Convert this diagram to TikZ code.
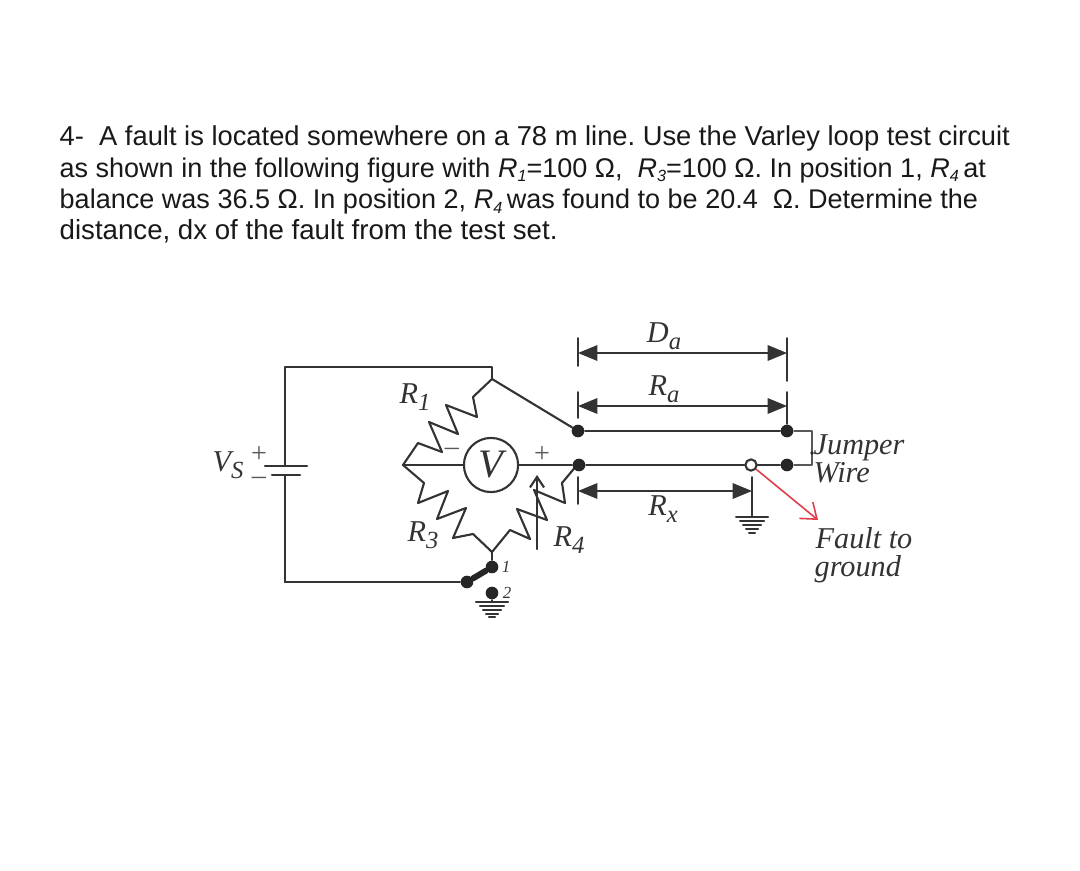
\documentclass[tikz,border=0pt]{standalone}
\usepackage{fontspec}
\setmainfont{Liberation Sans}
\newfontfamily\labfont{Liberation Serif}
\usetikzlibrary{arrows}
\usetikzlibrary{arrows.meta}

\definecolor{faultred}{RGB}{222,62,72}
\frenchspacing

\newcommand{\tsub}[2]{\textit{#1\raisebox{-0.35ex}{\fontsize{4.6}{5}\selectfont #2}}}
\newcommand{\lsub}[2]{\textit{#1\raisebox{-0.5ex}{\fontsize{7}{8}\selectfont #2}}}

\tikzset{
	wire/.style={line width=0.6pt,draw=black!80},
	thinwire/.style={line width=0.4pt,draw=black!65},
	dimline/.style={line width=0.5pt,draw=black!80,{Triangle[length=5.5pt,width=4.4pt]}-{Triangle[length=5.5pt,width=4.4pt]}},
	tick/.style={line width=0.5pt,draw=black!80},
	dot/.style={circle,fill=black!85,inner sep=0pt,minimum size=3.6pt},
	opendot/.style={circle,draw=black!80,fill=white,line width=0.6pt,inner sep=0pt,minimum size=3.2pt},
	textline/.style={anchor=base west,inner sep=0pt,text=black!90,font=\fontsize{#1}{9}\selectfont},
	lab/.style={inner sep=0pt,text=black!80,font=\labfont\itshape\fontsize{8.6}{9}\selectfont},
	sign/.style={inner sep=0pt,text=black!65,font=\labfont\fontsize{8}{8}\selectfont},
	small/.style={inner sep=0pt,text=black!80,font=\labfont\itshape\fontsize{4.8}{5}\selectfont},
}

\begin{document}
\begin{tikzpicture}
	[line cap=round,line join=round,x=0.01cm,y=-0.01cm]
	\useasboundingbox (0,0) rectangle (1080,870);
	\fill[white] (0,0) rectangle (1080,870);
	% question text
	\node[textline=7.77] (lineA) at (59,146) {4-\ \ A fault is located somewhere on a 78 m line. Use the Varley loop test circuit};
	\node[textline=7.68] (lineB) at (59,177) {as shown in the following figure with \tsub{R}{1}=100 Ω,\ \ \tsub{R}{3}=100 Ω. In position 1, \tsub{R}{4}\,at};
	\node[textline=7.69] (lineC) at (59,208) {balance was 36.5 Ω. In position 2, \tsub{R}{4}\,was found to be 20.4\ \ Ω. Determine the};
	\node[textline=7.86] (lineD) at (59,239) {distance, dx of the fault from the test set.};
	% bridge corners
	\coordinate (cornerTL) at (285,367);
	\coordinate (cornerTR) at (492,367);
	\coordinate (top) at (492,379);
	\coordinate (left) at (403,465);
	\coordinate (bottom) at (492,552);
	\coordinate (cornerBL) at (285,582);
	% battery
	\coordinate (plateA) at (285,466);
	\coordinate (plateB) at (285,475);
	\draw[wire] (265,466) -- (307,466);
	\draw[wire] (272,475) -- (300,475);
	\draw[wire] (plateA) -- (cornerTL) -- (cornerTR) -- (top);
	\draw[wire] (plateB) -- (cornerBL);
	% resistors
	\draw[wire] (top) -- (473,397) -- (477,417) -- (446,405) -- (458,434) -- (429,422) -- (442,452) -- (418,443) -- (left);
	\draw[wire] (left) -- (424,483) -- (418,503) -- (448,491) -- (437,519) -- (466,508) -- (453,538) -- (473,534) -- (bottom);
	\draw[wire] (bottom) -- (510,530) -- (530,539) -- (517,509) -- (547,520) -- (534,490) -- (565,503) -- (562,483) -- (577,465);
	\coordinate (adjA) at (537,549);
	\coordinate (adjB) at (537,475);
	\draw[wire,-{Straight Barb[length=3pt,width=4pt]}] (adjA) -- (adjB);
	% meter
	\node[circle,draw=black!80,line width=0.6pt,inner sep=0pt,minimum size=15.4pt] (meter) at (491,465) {};
	\node[lab,font=\labfont\itshape\fontsize{11.5}{12}\selectfont] (meterV) at (491,465) {V};
	% line dots
	\node[dot] (dotA) at (578,431) {};
	\node[dot] (dotB) at (579,465) {};
	\node[dot] (dotC) at (787,431) {};
	\node[dot] (dotD) at (787,465) {};
	\node[opendot] (fault) at (751,465) {};
	\draw[wire] (top) -- (dotA);
	\draw[wire] (dotA) -- (dotC);
	\draw[wire] (left) -- (meter);
	\draw[wire] (meter) -- (dotB);
	\draw[wire] (dotB) -- (fault);
	\draw[wire] (fault) -- (dotD);
	% jumper
	\coordinate (jumpA) at (812,431);
	\coordinate (jumpB) at (812,465);
	\draw[thinwire] (dotC) -- (jumpA) -- (jumpB) -- (dotD);
	\node[dot,minimum size=1.1pt] (jumpDot) at (812,453) {};
	% switch
	\node[dot] (swA) at (492,567) {};
	\node[dot] (swB) at (467,582) {};
	\node[dot] (swC) at (492,593) {};
	\draw[wire] (bottom) -- (swA);
	\draw[line width=1.7pt,black!85] (swA) -- (swB);
	\draw[wire] (swB) -- (cornerBL);
	\coordinate (gndA) at (492,602);
	\draw[wire] (swC) -- (gndA);
	\draw[wire] (476,602) -- (508,602);
	\draw[wire] (480,606) -- (504,606);
	\draw[wire] (483,610) -- (501,610);
	\draw[wire] (486,614) -- (498,614);
	\draw[wire] (489,617) -- (495,617);
	% ground at the rx end
	\coordinate (rxTop) at (752,477);
	\coordinate (rxEnd) at (752,491);
	\coordinate (gndB) at (752,517);
	\draw[tick] (rxTop) -- (gndB);
	\draw[wire] (736,517) -- (768,517);
	\draw[wire] (740,521) -- (764,521);
	\draw[wire] (743,525) -- (761,525);
	\draw[wire] (746,529) -- (758,529);
	\draw[wire] (749,533) -- (755,533);
	% dimensions
	\coordinate (daL) at (578,353);
	\coordinate (daR) at (787,353);
	\coordinate (raL) at (578,406);
	\coordinate (raR) at (787,406);
	\coordinate (rxL) at (578,491);
	\draw[tick] (578,338) -- (578,366);
	\draw[tick] (787,338) -- (787,381);
	\draw[tick] (578,392) -- (578,418);
	\draw[tick] (787,392) -- (dotC);
	\draw[tick] (578,477) -- (578,504);
	\draw[dimline] (daL) -- (daR);
	\draw[dimline] (raL) -- (raR);
	\draw[dimline] (rxL) -- (rxEnd);
	% fault arrow
	\coordinate (faultEnd) at (818,520);
	\draw[line width=0.45pt,faultred,-{Straight Barb[length=4pt,width=6pt]}] (fault) -- (faultEnd);
	% labels
	\node[lab] (labVs) at (228,465) {\lsub{V}{S}};
	\node[sign] (plusVs) at (259,455) {+};
	\node[sign] (minusVs) at (259,481) {–};
	\node[sign] (minusV) at (452,452) {–};
	\node[sign] (plusV) at (542,455) {+};
	\node[lab] (labRa) at (415,397) {\lsub{R}{1}};
	\node[lab] (labRb) at (423,535) {\lsub{R}{3}};
	\node[lab] (labRc) at (569,540) {\lsub{R}{4}};
	\node[lab] (labDa) at (664,336) {\lsub{D}{a}};
	\node[lab] (labRd) at (664,389) {\lsub{R}{a}};
	\node[lab] (labRx) at (663,509) {\lsub{R}{x}};
	\node[small] (posA) at (506,567) {1};
	\node[small] (posB) at (507,593) {2};
	\node[lab,anchor=base west] (jumper) at (813,454) {Jumper};
	\node[lab,anchor=base west] (wireLab) at (813,482) {Wire};
	\node[lab,anchor=base west] (faultLab) at (815,548) {Fault to};
	\node[lab,anchor=base west] (groundLab) at (814,576) {ground};
\end{tikzpicture}
\end{document}
